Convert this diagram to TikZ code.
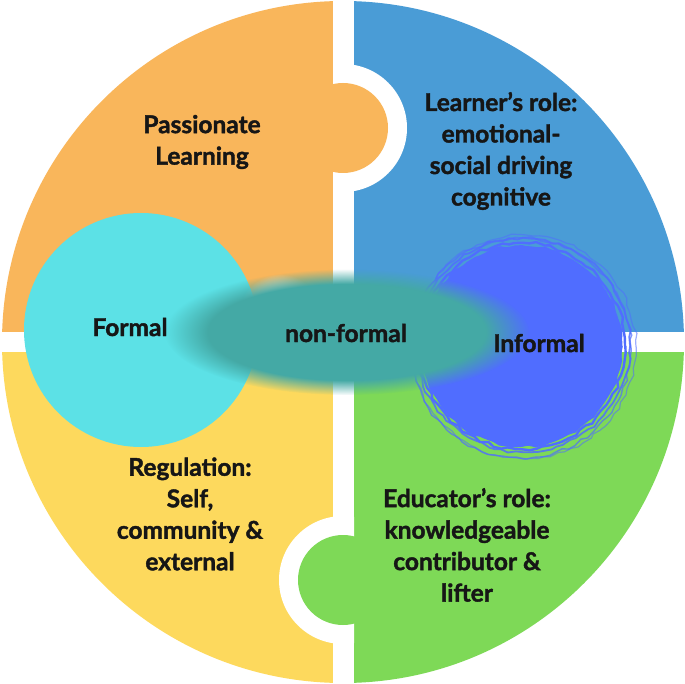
\documentclass[tikz,border=0pt]{standalone}
\usepackage{fontspec}
\setmainfont{Lato}
\newfontfamily\lblfont{Lato}[BoldFeatures={FakeBold=1.6}]
\usetikzlibrary{fadings,decorations.pathmorphing}
\definecolor{orangeq}{HTML}{F9B65B}
\definecolor{blueq}{HTML}{4A9CD6}
\definecolor{yellowq}{HTML}{FDD95D}
\definecolor{greenq}{HTML}{7ED957}
\definecolor{cyanc}{HTML}{5CE1E6}
\definecolor{bluec}{HTML}{506DFF}
\definecolor{tealc}{HTML}{44A9A5}
\definecolor{inkc}{HTML}{161616}
\pgfdeclareradialshading{softsh}{\pgfpointorigin}{color(0bp)=(white); color(19bp)=(white); color(25bp)=(black); color(50bp)=(black)}
\pgfdeclarefading{soft}{\pgfuseshading{softsh}}
\pgfdeclareradialshading{softsh2}{\pgfpointorigin}{color(0bp)=(white); color(15bp)=(white); color(25bp)=(black); color(50bp)=(black)}
\pgfdeclarefading{softer}{\pgfuseshading{softsh2}}
\tikzset{
  lbl/.style={text=inkc, font=\lblfont\fontsize{24.5}{31.5}\selectfont\bfseries, align=center, inner sep=0pt},
  scrib/.style={draw=bluec, line width=2.4pt, decorate, decoration={random steps, segment length=7pt, amplitude=1.6pt}}
}
\begin{document}
\begin{tikzpicture}[x=1pt,y=-1pt]
\useasboundingbox (0,0) rectangle (685,684);
\fill[white] (0,0) rectangle (685,684);
% quadrants
\begin{scope}
\clip (343,342) circle[radius=341pt];
\fill[orangeq] (0,0) rectangle (333,332);
\fill[blueq] (354,0) rectangle (685,332);
\fill[yellowq] (0,352) rectangle (333,684);
\fill[greenq] (354,352) rectangle (685,684);
\begin{scope}
\clip (333,0) rectangle (685,342);
\fill[white] (343,128) circle[radius=64pt];
\end{scope}
\fill[orangeq] (343,128) circle[radius=45pt];
\begin{scope}
\clip (0,342) rectangle (354,684);
\fill[white] (343,580) circle[radius=64pt];
\end{scope}
\fill[greenq] (343,580) circle[radius=45pt];
\end{scope}
% formal circle
\fill[cyanc] (141,330) circle[radius=117pt];
% light blob
\fill[white, opacity=0.8, path fading=softer] (280,316) circle[radius=42pt];
% informal scribbled circle
\fill[bluec] (522,346) circle[radius=100pt];
\pgfmathsetseed{7}
\draw[scrib, line width=3pt] (522,346) circle[radius=99pt];
\draw[scrib] (522,346) circle[radius=103pt];
\draw[scrib, line width=1.8pt, opacity=0.85] (523,345) circle[radius=107pt];
\draw[scrib, line width=1.4pt, opacity=0.7] (521,348) circle[radius=110pt];
\draw[scrib, line width=1.2pt, opacity=0.55] (524,347) circle[radius=112pt];
% non-formal blurred band
\fill[tealc, path fading=soft] (347,332) ellipse[x radius=182pt, y radius=63pt];
% labels
\node[lbl] (passion) at (202,142) {Passionate\\Learning};
\node[lbl] (learner) at (501,151) {Learner’s role:\\emotional-\\social driving\\cognitive};
\node[lbl] (formal) at (130,327) {Formal};
\node[lbl] (nonformal) at (346,333) {non-formal};
\node[lbl] (informal) at (539,343) {Informal};
\node[lbl] (regul) at (190,514) {Regulation:\\Self,\\community \&\\external};
\node[lbl] (educ) at (467,545) {Educator’s role:\\knowledgeable\\contributor \&\\lifter};
\end{tikzpicture}
\end{document}
